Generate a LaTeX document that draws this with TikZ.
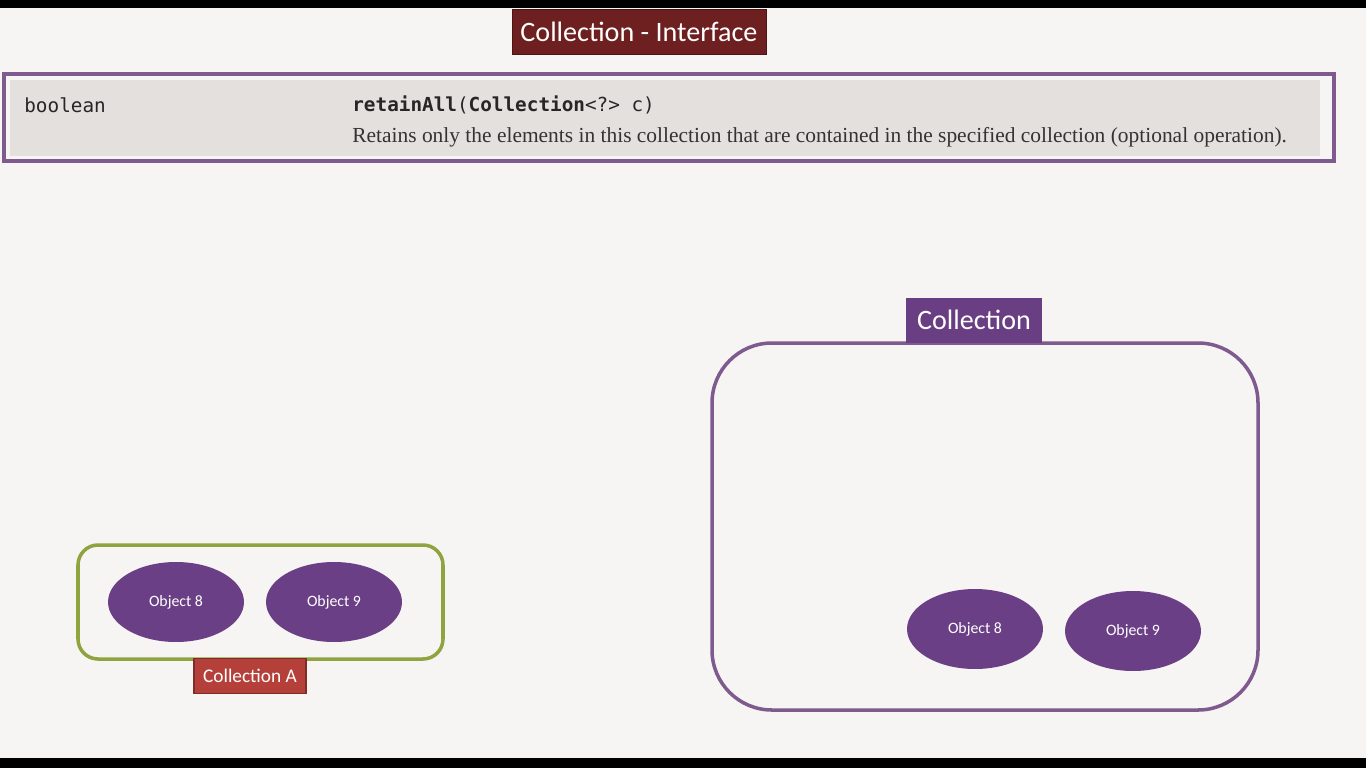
\documentclass[tikz,border=0pt]{standalone}
\usepackage{fontspec}
\setmainfont{Carlito}
\newfontfamily\docserif{Liberation Serif}
\newfontfamily\docmono{DejaVu Sans Mono}
\usetikzlibrary{positioning,shapes.geometric}
\definecolor{bgpage}{HTML}{F7F5F4}
\definecolor{titlered}{HTML}{6E2020}
\definecolor{framepurple}{HTML}{7E5A8F}
\definecolor{labelpurple}{HTML}{6A3E82}
\definecolor{objpurple}{HTML}{6B3F85}
\definecolor{greenline}{HTML}{8FA33F}
\definecolor{collred}{HTML}{B5403A}
\definecolor{docgrey}{HTML}{E4E0DE}
\tikzset{
  objnode/.style={ellipse, fill=objpurple, draw=none, minimum width=2.72cm, minimum height=1.6cm, inner sep=0pt, text=white, font=\fontsize{9}{10}\selectfont},
  labelbox/.style={rectangle, text=white, inner sep=0pt}
}
\begin{document}
\begin{tikzpicture}[x=0.02cm, y=-0.02cm]
    \fill[bgpage] (0,0) rectangle (1366,768);
    \fill[black] (0,0) rectangle (1366,8);
    \fill[black] (0,758) rectangle (1366,768);

    % title
    \node[labelbox, fill=titlered, draw=titlered!70!black, minimum width=5.08cm, minimum height=0.9cm, font=\fontsize{16}{19}\selectfont] (title) at (639,32) {Collection - Interface};

    % method summary row
    \fill[docgrey] (10,80) rectangle (1320,156);
    \draw[framepurple, line width=2pt] (4,74) rectangle (1334,161);
    \node[anchor=west, inner sep=0pt, font=\docmono\fontsize{11}{13}\selectfont, text=black!85] (rtype) at (24,105) {boolean};
    \node[anchor=west, inner sep=0pt, font=\docmono\fontsize{11}{13}\selectfont, text=black!85] (method) at (352,105) {\textbf{retainAll}(\textbf{Collection}<?> c)};
    \node[anchor=west, inner sep=0pt, font=\docserif\fontsize{12.2}{14}\selectfont, text=black!80] (desc) at (352,137) {Retains only the elements in this collection that are contained in the specified collection (optional operation).};

    % collection on the right
    \draw[framepurple, line width=2pt, rounded corners=1.2cm] (712,343) rectangle (1258,710);
    \node[labelbox, fill=labelpurple, minimum width=2.72cm, minimum height=0.9cm, font=\fontsize{16}{19}\selectfont] (coll) at (974,320) {Collection};
    \node[objnode] (robj8) at (975,629) {Object 8};
    \node[objnode] (robj9) at (1133,631) {Object 9};

    % collection A
    \draw[greenline, line width=2pt, rounded corners=0.4cm] (78,545) rectangle (443,659);
    \node[objnode] (aobj8) at (176,602) {Object 8};
    \node[objnode] (aobj9) at (334,602) {Object 9};
    \node[labelbox, fill=collred, draw=collred!70!black, line width=1pt, minimum width=2.24cm, minimum height=0.7cm, font=\fontsize{11}{13}\selectfont] (colla) at (250,676) {Collection A};
\end{tikzpicture}
\end{document}
